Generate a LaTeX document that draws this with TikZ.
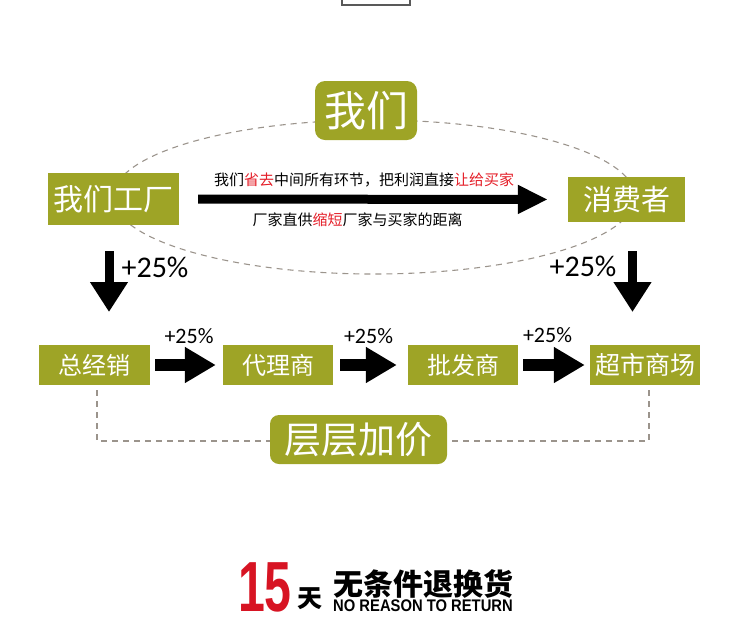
\documentclass[tikz,border=0pt]{standalone}
\usepackage{fontspec}
\usepackage{graphicx}
\setmainfont{Carlito}
\newfontfamily\cjk{Noto Sans CJK SC}
\newfontfamily\arialfont{Liberation Sans}
\usetikzlibrary{arrows.meta}
\definecolor{olivebox}{RGB}{158,164,38}
\definecolor{dashgray}{RGB}{155,148,140}
\definecolor{hlred}{RGB}{228,30,40}
\definecolor{logored}{RGB}{215,20,35}
\begin{document}
\begin{tikzpicture}[x=1pt,y=-1pt,
  greenbox/.style={fill=olivebox,text=white,inner sep=0pt,font=\cjk},
  dashline/.style={draw=dashgray,line width=1.1pt,dash pattern=on 6pt off 5pt},
  bigarrow/.style={line width=9pt,-{Triangle[length=30pt,width=27pt]}},
  downarrow/.style={line width=9pt,-{Triangle[length=30pt,width=36pt]}},
  rowarrow/.style={line width=12pt,-{Triangle[length=31pt,width=34pt]}},
  pct/.style={inner sep=0pt},
]
\useasboundingbox (0,0) rectangle (750,633);
% cut-off box at the top
\draw[draw=black!65,line width=1.4pt] (342,-6) rectangle (410,5);
% ellipse
\draw[dashline] (374,197) ellipse [x radius=261pt, y radius=77pt];
% top nodes
\node[greenbox,rounded corners=10pt,minimum width=102pt,minimum height=59pt,font=\cjk\fontsize{42}{42}\selectfont] (we) at (366,110.5) {我们};
\node[greenbox,minimum width=131pt,minimum height=52pt,font=\cjk\fontsize{30}{30}\selectfont] (f) at (113.5,199) {我们工厂};
\node[greenbox,minimum width=117pt,minimum height=45pt,font=\cjk\fontsize{29}{29}\selectfont] (c) at (626.5,199.5) {消费者};
% big arrow
\draw[bigarrow,shorten <=19pt,shorten >=20pt] (f.east) -- (c.west);
\node[inner sep=0pt,font=\cjk\fontsize{15}{15}\selectfont] (t1) at (364,180) {我们{\color{hlred}省去}中间所有环节，把利润直接{\color{hlred}让给买家}};
\node[inner sep=0pt,font=\cjk\fontsize{15}{15}\selectfont] (t2) at (357.5,220) {厂家直供{\color{hlred}缩短}厂家与买家的距离};
% row boxes
\node[greenbox,minimum width=111pt,minimum height=40pt,font=\cjk\fontsize{24}{24}\selectfont] (r1) at (94.5,365) {总经销};
\node[greenbox,minimum width=110pt,minimum height=40pt,font=\cjk\fontsize{24}{24}\selectfont] (r2) at (278,365) {代理商};
\node[greenbox,minimum width=110pt,minimum height=40pt,font=\cjk\fontsize{24}{24}\selectfont] (r3) at (463,365) {批发商};
\node[greenbox,minimum width=110pt,minimum height=40pt,font=\cjk\fontsize{25}{25}\selectfont] (r4) at (645,365) {超市商场};
% down arrows
\coordinate (d1a) at (109,251);
\coordinate (d1b) at (109,312);
\coordinate (d2a) at (632.5,251);
\coordinate (d2b) at (632.5,312);
\draw[downarrow] (d1a) -- (d1b);
\draw[downarrow] (d2a) -- (d2b);
\node[pct,font=\fontsize{30}{30}\selectfont] (p1) at (155,267) {+25\%};
\node[pct,font=\fontsize{30}{30}\selectfont] (p2) at (583,266.5) {+25\%};
% row arrows
\draw[rowarrow,shorten <=5pt,shorten >=7pt] (r1.east) -- (r2.west);
\draw[rowarrow,shorten <=7pt,shorten >=11pt] (r2.east) -- (r3.west);
\draw[rowarrow,shorten <=5pt,shorten >=5pt] (r3.east) -- (r4.west);
\node[pct,font=\fontsize{22}{22}\selectfont] (p3) at (189,336.5) {+25\%};
\node[pct,font=\fontsize{22}{22}\selectfont] (p4) at (368.5,336) {+25\%};
\node[pct,font=\fontsize{22}{22}\selectfont] (p5) at (547.5,335.5) {+25\%};
% layered markup
\node[greenbox,rounded corners=9pt,minimum width=177pt,minimum height=49pt,font=\cjk\fontsize{37}{37}\selectfont] (lay) at (358.5,439.5) {层层加价};
\draw[dashline,shorten <=5pt] ([xshift=2.5pt]r1.south) |- ([yshift=-1.5pt]lay.west);
\draw[dashline,shorten <=5pt] ([xshift=4pt]r4.south) |- ([yshift=-1.5pt]lay.east);
% bottom logo
\node[inner sep=0pt,text=logored] (n15) at (265,587) {\scalebox{0.68}[1]{\arialfont\bfseries\fontsize{71}{71}\selectfont 15}};
\node[inner sep=0pt,font=\cjk\bfseries\fontsize{25}{25}\selectfont] (tian) at (310,599) {天};
\node[inner sep=0pt,font=\cjk\bfseries\fontsize{30}{30}\selectfont] (wu) at (423,583.5) {无条件退换货};
\node[inner sep=0pt] (eng) at (423,606) {\scalebox{0.88}[1]{\arialfont\bfseries\fontsize{16.8}{16.8}\selectfont NO REASON TO RETURN}};
\end{tikzpicture}
\end{document}
